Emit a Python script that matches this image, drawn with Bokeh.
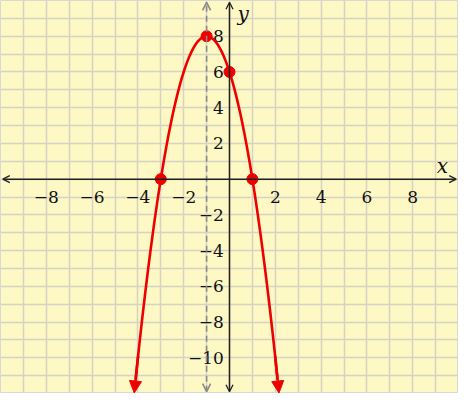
import numpy as np
from bokeh.plotting import figure
from bokeh.models import Arrow, OpenHead, NormalHead, ColumnDataSource
from bokeh.core.properties import value
from bokeh.embed import file_html
from bokeh.resources import INLINE

# parabola y = a*x^2 + b*x + c
coef_a, coef_b, coef_c = -2, -4, 6
curve_x_min, curve_x_max = -4.16, 2.16

# marked points: vertex, y-intercept, roots
pt_x = [-1, 0, -3, 1]
pt_y = [8, 6, 0, 0]
axis_of_sym = -1

x_ticks = [-8, -6, -4, -2, 2, 4, 6, 8]
y_ticks = [8, 6, 4, 2, -2, -4, -6, -8, -10]

X_RANGE = (-10, 10)
Y_RANGE = (-12, 10)

font = "DejaVu Serif"

p = figure(width=458, height=393, x_range=X_RANGE, y_range=Y_RANGE,
           output_backend="svg", toolbar_location=None,
           x_axis_location=None, y_axis_location=None, min_border=0)
p.background_fill_color = "#fdf8c4"
p.border_fill_color = "#fdf8c4"
p.outline_line_color = "#d9d9d0"

p.xgrid.ticker = list(range(X_RANGE[0], X_RANGE[1] + 1))
p.ygrid.ticker = list(range(Y_RANGE[0], Y_RANGE[1] + 1))
p.grid.grid_line_color = "#d6d3c2"
p.grid.grid_line_width = 1.5

# dashed axis of symmetry
p.add_layout(Arrow(x_start=axis_of_sym, y_start=-11.9, x_end=axis_of_sym, y_end=9.9,
                   line_color="#8a8a8a", line_width=1.6, line_dash="6 4",
                   start=OpenHead(size=8, line_color="#8a8a8a", line_width=1.6),
                   end=OpenHead(size=8, line_color="#8a8a8a", line_width=1.6)))

# axes
p.add_layout(Arrow(x_start=-9.9, y_start=0, x_end=9.9, y_end=0,
                   line_color="#222222", line_width=1.5,
                   start=OpenHead(size=7, line_color="#222222", line_width=1.3),
                   end=OpenHead(size=7, line_color="#222222", line_width=1.3)))
p.add_layout(Arrow(x_start=0, y_start=-11.9, x_end=0, y_end=9.9,
                   line_color="#222222", line_width=1.5,
                   start=OpenHead(size=7, line_color="#222222", line_width=1.3),
                   end=OpenHead(size=7, line_color="#222222", line_width=1.3)))

# tick labels
def lab(v):
    return ("\u2212" + str(-v)) if v < 0 else str(v)

xs = ColumnDataSource(dict(x=x_ticks, y=[-1.0] * len(x_ticks), t=[lab(v) for v in x_ticks]))
p.text(x="x", y="y", text="t", source=xs, text_font=value(font), text_font_size="17px",
       text_align="center", text_baseline="middle", text_color="#111111")
ys = ColumnDataSource(dict(x=[-0.25] * len(y_ticks), y=y_ticks, t=[lab(v) for v in y_ticks]))
p.text(x="x", y="y", text="t", source=ys, text_font=value(font), text_font_size="17px",
       text_align="right", text_baseline="middle", text_color="#111111")

p.text(x=[9.3], y=[0.75], text=["x"], text_font=value(font), text_font_size="20px",
       text_font_style="italic", text_align="center", text_baseline="middle", text_color="#111111")
p.text(x=[0.6], y=[9.25], text=["y"], text_font=value(font), text_font_size="20px",
       text_font_style="italic", text_align="center", text_baseline="middle", text_color="#111111")

# parabola
cx = np.linspace(curve_x_min, curve_x_max, 300)
cy = coef_a * cx ** 2 + coef_b * cx + coef_c
p.line(cx[3:-3], cy[3:-3], line_color="#ee0000", line_width=2.6)
for i0, i1 in ((8, 0), (-9, -1)):
    p.add_layout(Arrow(x_start=cx[i0], y_start=cy[i0], x_end=cx[i1], y_end=cy[i1],
                       line_color="#ee0000", line_width=2.6,
                       end=NormalHead(size=12, fill_color="#ee0000", line_color="#ee0000")))

p.scatter(pt_x, pt_y, size=11, fill_color="#ee0000", line_color="#ee0000")

open("out.html", "w").write(file_html(p, INLINE))
